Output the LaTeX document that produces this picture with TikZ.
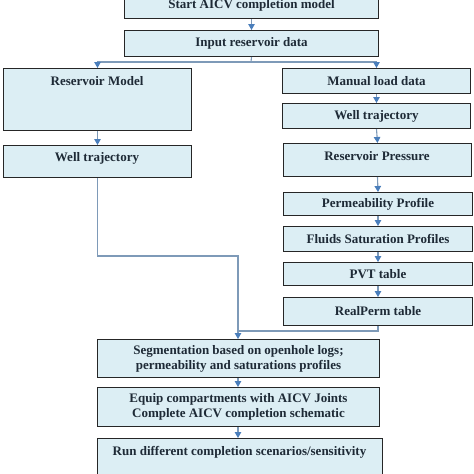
\documentclass[tikz,border=0pt]{standalone}
\usepackage{fontspec}
\setmainfont{Liberation Serif}
\usetikzlibrary{arrows.meta}
\definecolor{boxfill}{HTML}{DCEEF4}
\definecolor{linecol}{HTML}{7E9AB8}
\definecolor{arrowcol}{HTML}{4A7EBB}
\definecolor{txt}{HTML}{1E2A36}
\begin{document}
\begin{tikzpicture}[x=1pt,y=-1pt,
  lbl/.style={font=\fontsize{13}{15}\selectfont\bfseries,text=txt,align=center},
  box/.style={draw=black!85,line width=1pt,fill=boxfill,inner sep=0pt,anchor=north west,lbl},
  conn/.style={draw=linecol,line width=1.1pt,-{Triangle[length=6pt,width=6.5pt,color=arrowcol]}},
  plain/.style={draw=linecol,line width=1.1pt}]
\useasboundingbox (0,0) rectangle (474,474);
% boxes
\node[box,minimum width=254pt,minimum height=26pt] (start) at (124,-8) {Start AICV completion model};
\node[box,minimum width=254pt,minimum height=26pt] (input) at (124,30) {Input reservoir data};
\node[box,minimum width=188pt,minimum height=62pt] (resm) at (3,68) {};
\node[lbl] (resmt) at (97,81) {Reservoir Model};
\node[box,minimum width=188pt,minimum height=32pt] (wtl) at (3,145) {};
\node[lbl] (wtlt) at (97,158) {Well trajectory};
\node[box,minimum width=188pt,minimum height=25pt] (manual) at (282,68) {Manual load data};
\node[box,minimum width=188pt,minimum height=25pt] (wtr) at (282,103) {Well trajectory};
\node[box,minimum width=188pt,minimum height=33pt] (rp) at (283,143) {};
\node[lbl] (rpt) at (377,156) {Reservoir Pressure};
\node[box,minimum width=189pt,minimum height=23pt] (perm) at (283,192) {Permeability Profile};
\node[box,minimum width=189pt,minimum height=25pt] (fluid) at (283,226) {Fluids Saturation Profiles};
\node[box,minimum width=189pt,minimum height=23pt] (pvt) at (283,262) {PVT table};
\node[box,minimum width=189pt,minimum height=28pt] (realp) at (283,297) {RealPerm table};
\node[box,minimum width=282pt,minimum height=38pt] (seg) at (97,339) {Segmentation based on openhole logs;\\permeability and saturations profiles};
\node[box,minimum width=282pt,minimum height=39pt] (equip) at (97,387) {Equip compartments with AICV Joints\\Complete AICV completion schematic};
\node[box,minimum width=285pt,minimum height=50pt] (run) at (97,438) {};
\node[lbl] (runt) at (239.5,452) {Run different completion scenarios/sensitivity};
% junction coordinates
\coordinate (split) at (251,62);
\coordinate (merge) at (238,331);
% connectors
\draw[conn] (start.south) -- (input.north);
\draw[plain] (input.south) -- (split);
\draw[conn] (split) -| (resm.north);
\draw[conn] (split) -| (manual.north);
\draw[conn] (resm.south) -- (wtl.south |- wtl.north);
\draw[conn] (manual.south) -- (wtr.north);
\draw[conn] (wtr.south) -- (rp.south |- rp.north);
\draw[conn] (rp.south) -- (perm.north);
\draw[conn] (perm.south) -- (fluid.north);
\draw[conn] (fluid.south) -- (pvt.north);
\draw[conn] (pvt.south) -- (realp.north);
\draw[plain] (wtl.south) |- (238,256) -- (merge);
\draw[plain] (realp.south) |- (merge);
\draw[conn] (merge) -- (merge |- seg.north);
\draw[conn] (seg.south -| merge) -- (equip.north -| merge);
\draw[conn] (equip.south -| merge) -- (run.north -| merge);
\end{tikzpicture}
\end{document}
